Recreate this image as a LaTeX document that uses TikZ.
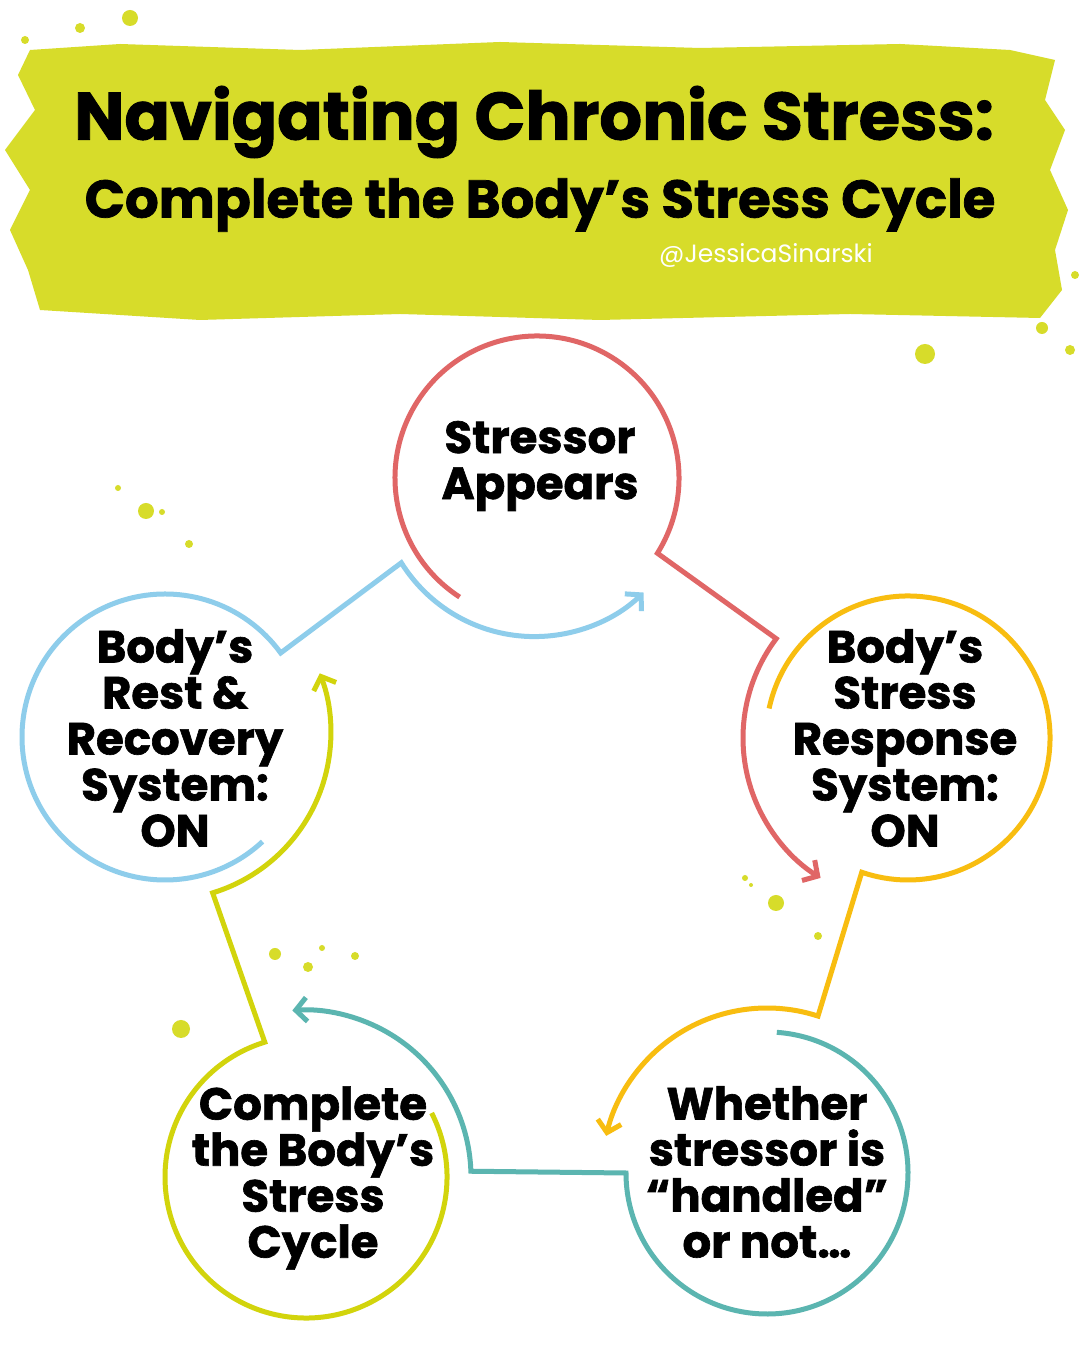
\documentclass[tikz,border=0pt]{standalone}
\usepackage{fontspec}
\setmainfont{Poppins}[BoldFont={Poppins Bold}]
\newfontfamily\heavy{Poppins Bold}[FakeBold=1.4]
\usetikzlibrary{calc,arrows.meta}
\definecolor{lime}{HTML}{D7DC2A}
\definecolor{cred}{HTML}{E06666}
\definecolor{corange}{HTML}{F8BD10}
\definecolor{cteal}{HTML}{5BB5B0}
\definecolor{cyel}{HTML}{D2D40C}
\definecolor{cblue}{HTML}{8ECDEB}
\tikzset{
  ring/.style={circle,inner sep=0pt,outer sep=0pt,draw=none},
  lbl/.style={align=center,font=\heavy\fontsize{45}{46}\selectfont,text=black},
  cyc/.style={line width=5pt,-{Straight Barb[length=11pt,width=24pt,line width=5pt]}},
  dot/.style={fill=lime,draw=none}
}
\begin{document}
\begin{tikzpicture}[x=1pt,y=1pt]
\useasboundingbox (0,0) rectangle (1080,1350);
\fill[white] (0,0) rectangle (1080,1350);
% brush header
\fill[lime] (30,1300) -- (120,1306) -- (300,1300) -- (500,1308) -- (700,1302) -- (900,1306) -- (1010,1300) -- (1055,1290)
 -- (1045,1250) -- (1065,1220) -- (1050,1180) -- (1068,1140) -- (1055,1100) -- (1062,1060) -- (1040,1032)
 -- (850,1036) -- (600,1030) -- (400,1036) -- (200,1030) -- (40,1040) -- (28,1080) -- (10,1120) -- (30,1160) -- (5,1200) -- (35,1240) -- (18,1275) -- cycle;
\foreach \p/\r in {{130,1332}/8,{80,1322}/5,{25,1310}/4,{62,1290}/4,{1070,1000}/5,{1042,1022}/6,{925,996}/10,{1075,1075}/4,
 {146,839}/8,{162,838}/3,{118,862}/3,{189,806}/4,{776,447}/8,{745,472}/3,{751,465}/2,{818,414}/4,{181,321}/9,{275,396}/6,{308,383}/5,{355,394}/4,{322,402}/3}
  \fill[dot] (\p) circle (\r);
\node[font=\heavy\fontsize{67}{70}\selectfont] (t1) at (534,1228) {Navigating Chronic Stress:};
\node[font=\heavy\fontsize{53}{56}\selectfont] (t2) at (540,1145) {Complete the Body’s Stress Cycle};
\node[font=\fontsize{25}{28}\selectfont,text=white] (h) at (766,1095) {@JessicaSinarski};
% circles
\node[ring,minimum size=284pt] (S) at (537,872) {};
\node[ring,minimum size=284pt] (B) at (908,612) {};
\node[ring,minimum size=282pt] (W) at (767,177) {};
\node[ring,minimum size=282pt] (C) at (306,173) {};
\node[ring,minimum size=286pt] (R) at (165,613) {};
\node[lbl] (sl) at (540,884) {Stressor\\Appears};
\node[lbl] (bl) at (905,612) {Body’s\\Stress\\Response\\System:\\ON};
\node[lbl] (wl) at (767,178) {Whether\\stressor is\\“handled”\\or not…};
\node[lbl] (cl) at (313,172) {Complete\\the Body’s\\Stress\\Cycle};
\node[lbl] (rl) at (175,612) {Body’s\\Rest \&\\Recovery\\System:\\ON};
% connectors
\draw[cyc,cred] (S.237) arc[start angle=237,end angle=-32,radius=142pt] -- ($(B.center)+(143:165)$) arc[start angle=143,end angle=238,radius=165pt];
\draw[cyc,corange] (B.168) arc[start angle=168,end angle=-109,radius=142pt] -- ($(W.center)+(72:165)$) arc[start angle=72,end angle=167,radius=165pt];
\draw[cyc,cteal] (W.86) arc[start angle=86,end angle=-180,radius=141pt] -- ($(C.center)+(2:165)$) arc[start angle=2,end angle=94,radius=167pt];
\draw[cyc,cyel] (C.27) arc[start angle=27,end angle=-253,radius=141pt] -- ($(R.center)+(-73:163)$) arc[start angle=-73,end angle=21,radius=167pt];
\draw[cyc,cblue] (R.-47) arc[start angle=-47,end angle=-324,radius=143pt] -- ($(S.center)+(212:160)$) arc[start angle=212,end angle=314,radius=157pt];
\end{tikzpicture}
\end{document}
